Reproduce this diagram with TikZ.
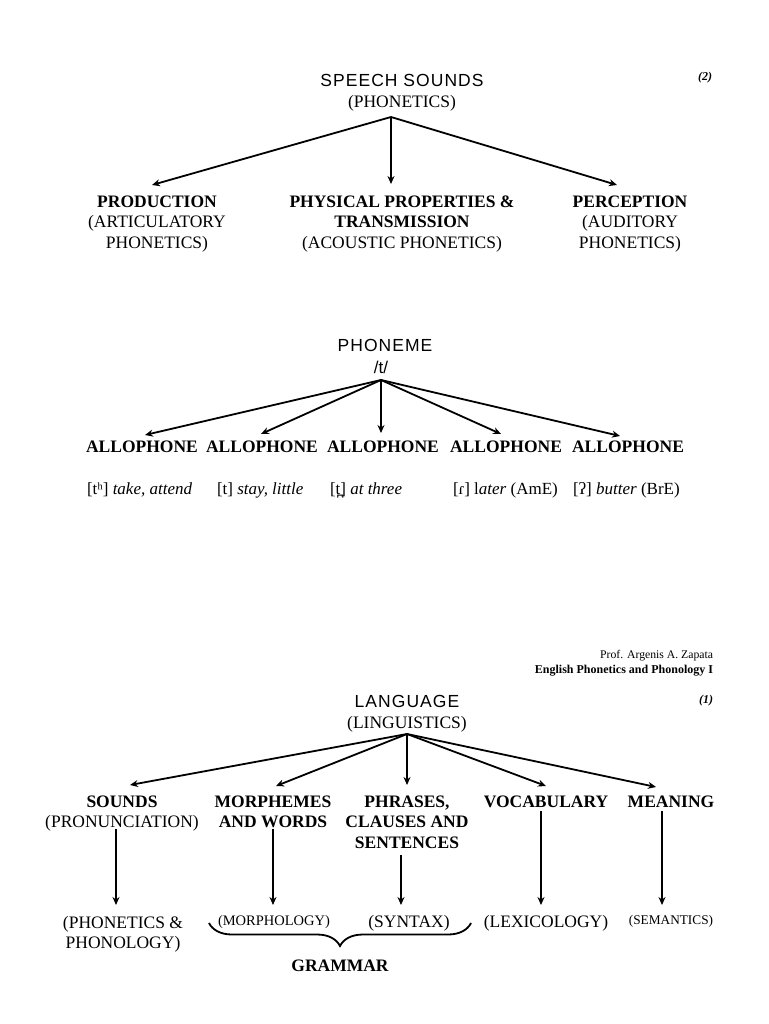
\documentclass[tikz,border=0pt]{standalone}
\usepackage{fontspec}
\setmainfont{Liberation Serif}
\setsansfont{Liberation Sans}
\newfontfamily\hdfont[LetterSpace=6]{Liberation Sans}
\usetikzlibrary{arrows.meta,decorations.pathreplacing}
\begin{document}
\begin{tikzpicture}[x=1pt,y=-1pt,
  every node/.style={inner sep=0pt,outer sep=0pt},
  hd/.style={font=\hdfont\fontsize{17.5}{20.5}\selectfont,anchor=base},
  tx/.style={font=\fontsize{17.5}{20.5}\selectfont,align=center,anchor=base},
  bx/.style={font=\bfseries\fontsize{17.5}{20.5}\selectfont,align=center,anchor=base},
  ml/.style={font=\fontsize{17.5}{20.5}\selectfont,align=center,anchor=north},
  num/.style={font=\bfseries\itshape\fontsize{12}{14}\selectfont,anchor=base},
  ex/.style={font=\fontsize{17}{20}\selectfont,anchor=base west},
  arr/.style={-{Stealth[length=8pt,width=7pt]},line width=1.8pt}]
\useasboundingbox (0,0) rectangle (768,1024);
% ---------- Section 1 ----------
\node[hd] (ss) at (402,87) {SPEECH SOUNDS};
\node[tx] (ph) at (402,108) {(PHONETICS)};
\node[num] (n2) at (705,81) {(2)};
\coordinate (a1) at (391,117);
\coordinate (t1a) at (152,185);
\coordinate (t1b) at (391,184);
\coordinate (t1c) at (617,185);
\node[ml] (prod) at (157,192.65) {\strut\textbf{PRODUCTION}\\(ARTICULATORY\\PHONETICS)};
\node[ml] (phys) at (402,192.65) {\strut\textbf{PHYSICAL PROPERTIES \&}\\\textbf{TRANSMISSION}\\(ACOUSTIC PHONETICS)};
\node[ml] (perc) at (630,192.65) {\strut\textbf{PERCEPTION}\\(AUDITORY\\PHONETICS)};
\draw[arr] (a1) -- (t1a);
\draw[arr] (a1) -- (t1b);
\draw[arr] (a1) -- (t1c);
% ---------- Section 2 ----------
\node[hd] (pm) at (385,351) {PHONEME};
\node[font=\sffamily\fontsize{17}{20}\selectfont,anchor=base] (tt) at (381,373) {/t/};
\coordinate (a2) at (381,380);
\coordinate (t2a) at (145,435);
\coordinate (t2b) at (261,434);
\coordinate (t2c) at (381,433);
\coordinate (t2d) at (501,434);
\coordinate (t2e) at (620,436);
\node[bx] (al1) at (142,452) {ALLOPHONE};
\node[bx] (al2) at (262,452) {ALLOPHONE};
\node[bx] (al3) at (383,452) {ALLOPHONE};
\node[bx] (al4) at (506,452) {ALLOPHONE};
\node[bx] (al5) at (628,452) {ALLOPHONE};
\foreach \t in {t2a,t2b,t2c,t2d,t2e} \draw[arr] (a2) -- (\t);
\node[ex] (e1) at (87,494) {[tʰ] \textit{take, attend}};
\node[ex] (e2) at (217,494) {[t] \textit{stay, little}};
\node[ex] (e3) at (330,494) {[t̪] \textit{at three}};
\node[ex] (e4) at (453,494) {[ɾ] l\textit{ater} (AmE)};
\node[ex] (e5) at (573,494) {[ʔ] \textit{butter} (BrE)};
% ---------- Section 3 ----------
\node[font=\fontsize{11.7}{13}\selectfont,anchor=base east] (prof) at (713,658) {Prof. Argenis A. Zapata};
\node[font=\bfseries\fontsize{12}{14}\selectfont,anchor=base east] (course) at (713,673) {English Phonetics and Phonology I};
\node[hd] (lang) at (407,707) {LANGUAGE};
\node[tx] (ling) at (407,728) {(LINGUISTICS)};
\node[num] (n1) at (706,703) {(1)};
\coordinate (a3) at (407,734);
\coordinate (t3a) at (130,785);
\coordinate (t3b) at (276,786);
\coordinate (t3c) at (407,785);
\coordinate (t3d) at (546,786);
\coordinate (t3e) at (656,787);
\foreach \t in {t3a,t3b,t3c,t3d,t3e} \draw[arr] (a3) -- (\t);
\node[ml] (snd) at (122,792.65) {\strut\textbf{SOUNDS}\\(PRONUNCIATION)};
\node[ml,font=\bfseries\fontsize{17.5}{20.5}\selectfont] (mor) at (273,792.65) {\strut MORPHEMES\\AND WORDS};
\node[ml,font=\bfseries\fontsize{17.5}{20.5}\selectfont] (phr) at (407,792.65) {\strut PHRASES,\\CLAUSES AND\\SENTENCES};
\node[bx] (voc) at (546,807) {VOCABULARY};
\node[bx] (mea) at (671,807) {MEANING};
\coordinate (v1s) at (116,829); \coordinate (v1e) at (116,905);
\coordinate (v2s) at (273,829); \coordinate (v2e) at (273,905);
\coordinate (v3s) at (401,855); \coordinate (v3e) at (401,905);
\coordinate (v4s) at (541,811); \coordinate (v4e) at (541,905);
\coordinate (v5s) at (662,811); \coordinate (v5e) at (662,905);
\draw[arr] (v1s) -- (v1e);
\draw[arr] (v2s) -- (v2e);
\draw[arr] (v3s) -- (v3e);
\draw[arr] (v4s) -- (v4e);
\draw[arr] (v5s) -- (v5e);
\node[ml] (pp) at (123,913.65) {\strut(PHONETICS \&\\PHONOLOGY)};
\node[font=\fontsize{14.5}{16}\selectfont,anchor=base] (morl) at (274,925) {(MORPHOLOGY)};
\node[tx] (syn) at (409,927) {(SYNTAX)};
\node[tx] (lex) at (546,927) {(LEXICOLOGY)};
\node[font=\fontsize{13.3}{15}\selectfont,anchor=base] (sem) at (671,924) {(SEMANTICS)};
\coordinate (bl) at (209,923);
\coordinate (br) at (471,923);
\draw[line width=1.8pt,decorate,decoration={brace,mirror,amplitude=23pt}] (bl) -- (br);
\node[bx] (gram) at (340,971) {GRAMMAR};
\end{tikzpicture}
\end{document}
